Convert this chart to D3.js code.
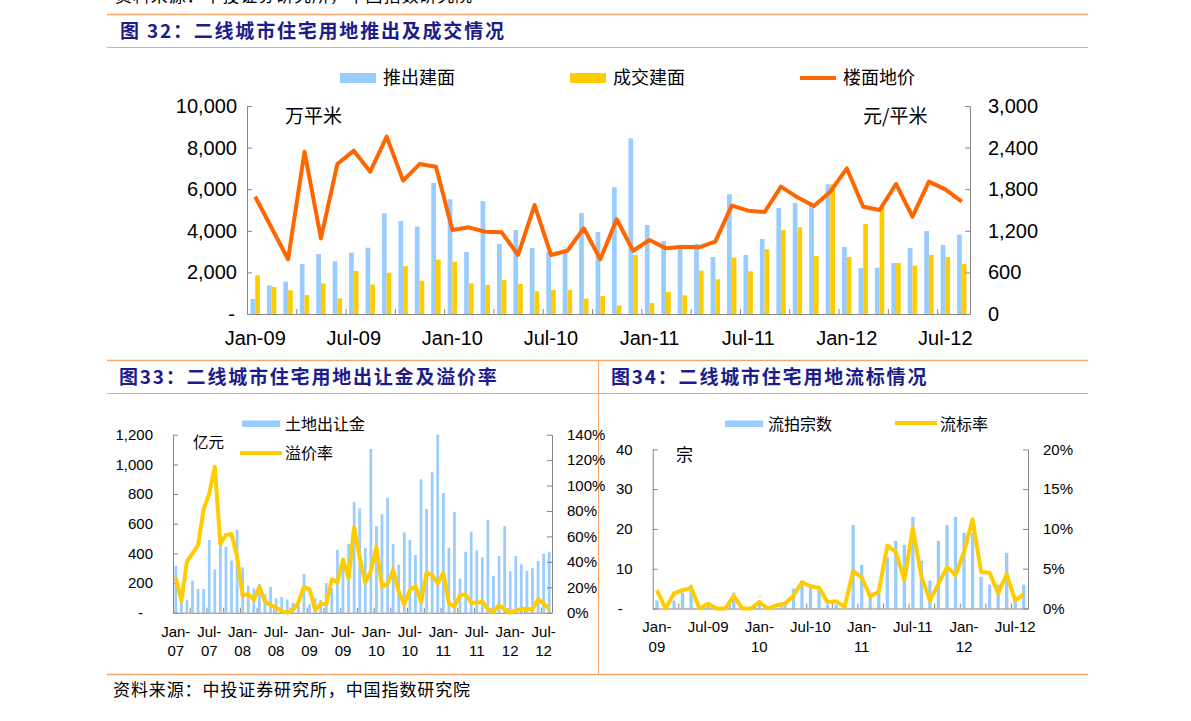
<!DOCTYPE html>
<html>
<head>
<meta charset="utf-8">
<script src="https://cdn.jsdelivr.net/npm/d3@7/dist/d3.min.js"></script>
<style>
  body { margin: 0; background: #fff; }
  svg text { font-family: "Liberation Sans", Arial, sans-serif; fill: #000; }
  svg text.cn { font-family: "Noto Sans CJK SC", sans-serif; }
  svg text.title { font-family: "Noto Sans CJK SC", sans-serif; font-weight: 700; fill: #1c1c8a; letter-spacing: 1.8px; }
</style>
</head>
<body>
<svg id="page" width="1191" height="721"></svg>
<script>
// ---- fig 32: 推出 / 成交 / 楼面地价, Jan-09 .. Aug-12
const supplyArea = [721, 1378, 1554, 2404, 2885, 2532, 2949, 3189, 4840, 4471, 4199, 6298,
  5513, 2981, 5433, 3365, 4038, 3173, 2981, 2981, 4856, 3942, 6090, 8446,
  4279, 3510, 3237, 3365, 2740, 5753, 2837, 3606, 5096, 5337, 5240, 6234,
  3221, 2212, 2228, 2452, 3173, 3990, 3317, 3814];
const dealArea = [1859, 1298, 1138, 913, 1474, 753, 2067, 1410, 1987, 2308, 1603, 2612,
  2516, 1474, 1394, 1635, 1442, 1090, 1154, 1154, 737, 865, 417, 2837,
  529, 1058, 897, 2083, 1667, 2708, 2051, 3109, 4038, 4167, 2788, 6234,
  2740, 4327, 5160, 2452, 2324, 2837, 2740, 2404];
const floorPrice = [1692, 1240, 789, 2341, 1091, 2163, 2356, 2053, 2558, 1923, 2163, 2125,
  1212, 1250, 1187, 1178, 851, 1572, 851, 913, 1236, 789, 1366, 913,
  1067, 947, 971, 962, 1043, 1562, 1490, 1471, 1837, 1683, 1558, 1764,
  2101, 1548, 1500, 1875, 1404, 1909, 1798, 1620];
const topLabels = ["Jan-09", "Jul-09", "Jan-10", "Jul-10", "Jan-11", "Jul-11", "Jan-12", "Jul-12"];

// ---- fig 33: 土地出让金 (亿元) / 溢价率 (%), Jan-07 .. Aug-12
const landFee = [315, 110, 85, 216, 160, 160, 490, 292, 524, 445, 351, 557,
  306, 182, 164, 193, 124, 175, 97, 106, 90, 67, 56, 261,
  56, 97, 85, 200, 164, 425, 337, 463, 746, 703, 438, 1103,
  584, 663, 775, 463, 324, 542, 490, 389, 899, 699, 946, 1200,
  807, 438, 679, 229, 411, 546, 420, 373, 625, 249, 382, 584,
  279, 382, 326, 283, 301, 348, 398, 409];
const premiumRate = [27.8, 9.2, 40.1, 46.7, 53.2, 81.3, 93.9, 114.8, 54.0, 61.1, 61.9, 44.0,
  13.4, 14.7, 10.0, 20.4, 8.7, 6.0, 4.2, 1.3, 0, 2.1, 8.1, 20.4,
  18.4, 2.1, 6.8, 6.8, 26.2, 23.9, 41.9, 27.0, 67.1, 43.5, 23.6, 33.0,
  51.9, 20.4, 22.5, 33.6, 16.5, 6.6, 17.8, 21.0, 8.7, 31.5, 29.6, 23.1,
  31.5, 7.3, 4.7, 13.9, 14.4, 7.9, 7.9, 8.7, 2.6, 0.8, 6.0, 2.6,
  0, 1.6, 2.9, 3.1, 2.6, 10.7, 7.3, 2.6];
const feeLabels = ["Jan-\n07", "Jul-\n07", "Jan-\n08", "Jul-\n08", "Jan-\n09", "Jul-\n09",
  "Jan-\n10", "Jul-\n10", "Jan-\n11", "Jul-\n11", "Jan-\n12", "Jul-\n12"];

// ---- fig 34: 流拍宗数 / 流标率 (%), Jan-09 .. Aug-12
const failCount = [2, 0, 2, 4, 6, 0, 1, 0, 0, 4, 0, 0,
  2, 0, 0, 1, 5, 7, 6, 5, 1, 1, 1, 21,
  11, 3, 4, 13, 17, 16, 23, 12, 7, 17, 21, 23,
  19, 19, 8, 6, 6, 14, 2, 6];
const failRate = [2.3, 0, 1.9, 2.3, 2.6, 0, 0.6, 0, 0, 1.6, 0, 0,
  0.8, 0, 0.4, 0.6, 1.6, 3.3, 2.8, 2.6, 0.8, 0.9, 0.2, 4.7,
  3.9, 1.5, 2.1, 7.9, 7.1, 3.6, 10.1, 4.0, 1.0, 3.1, 5.2, 4.2,
  7.1, 11.2, 4.6, 4.5, 1.9, 4.3, 1.0, 1.8];
const failLabels = ["Jan-\n09", "Jul-09", "Jan-\n10", "Jul-10", "Jan-\n11", "Jul-11", "Jan-\n12", "Jul-12"];

const months09 = d3.timeMonths(new Date(2009, 0, 1), new Date(2012, 8, 1));
const months07 = d3.timeMonths(new Date(2007, 0, 1), new Date(2012, 8, 1));

const BLUE = "#99ccff", GOLD = "#ffcc00", ORANGE = "#ff6600", AXIS = "#868686", RULE = "#f5a86a";

const svg = d3.select("#page");

function combo(o) {
  const g = svg.append("g");
  const n = o.cats.length;
  const x = d3.scaleBand().domain(d3.range(n)).range([o.left, o.right]);
  const xb = d3.scaleLinear().domain([0, n]).range([o.left, o.right]);
  const yL = d3.scaleLinear().domain([0, o.leftMax]).range([o.bottom, o.top]);
  const yR = d3.scaleLinear().domain([0, o.rightMax]).range([o.bottom, o.top]);
  const cx = i => x(i) + x.bandwidth() / 2;

  o.bars.forEach(b => {
    g.append("g").selectAll("rect").data(b.values).join("rect")
      .attr("x", (d, i) => cx(i) + b.dx)
      .attr("y", d => yL(d))
      .attr("width", b.w)
      .attr("height", d => yL(0) - yL(d))
      .attr("fill", b.color);
  });

  // axes
  const styleAxis = (sel, size) => {
    sel.select(".domain").attr("stroke", AXIS);
    sel.selectAll(".tick line").attr("stroke", AXIS);
    sel.selectAll(".tick text").attr("font-size", size).attr("fill", "#000")
      .attr("font-family", "Liberation Sans, Arial, sans-serif");
  };
  const gl = g.append("g").attr("transform", `translate(${o.left},0)`)
    .call(d3.axisLeft(yL).tickValues(o.leftTicks).tickSizeInner(-5).tickSizeOuter(0)
      .tickPadding(o.padL).tickFormat(d => d === 0 ? "-" : o.fmtL(d)));
  styleAxis(gl, o.fs);
  gl.selectAll(".tick text").filter(d => d === 0).attr("dx", o.dashDx);

  const gr = g.append("g").attr("transform", `translate(${o.right},0)`)
    .call(d3.axisRight(yR).tickValues(o.rightTicks).tickSizeInner(-5).tickSizeOuter(0)
      .tickPadding(o.padR).tickFormat(o.fmtR));
  styleAxis(gr, o.fs);

  const gb = g.append("g").attr("transform", `translate(0,${o.bottom})`)
    .call(d3.axisBottom(xb).tickValues(d3.range(3, n, 3)).tickSizeInner(-5).tickSizeOuter(0).tickFormat(""));
  styleAxis(gb, o.fs);

  // line on top
  g.append("path").datum(o.line.values)
    .attr("d", d3.line().x((d, i) => cx(i)).y(d => yR(d)))
    .attr("fill", "none")
    .attr("stroke", o.line.color)
    .attr("stroke-width", o.line.w)
    .attr("stroke-linejoin", "round");

  // category labels, every 6 months
  const lab = g.append("g").selectAll("text").data(o.xLabels).join("text")
    .attr("x", (d, k) => cx(k * 6))
    .attr("y", o.bottom + o.labY)
    .attr("text-anchor", "middle")
    .attr("font-size", o.xfs);
  lab.each(function (d) {
    const t = d3.select(this);
    d.split("\n").forEach((s, j) => {
      t.append("tspan").attr("x", t.attr("x")).attr("dy", j === 0 ? "0.35em" : o.lineGap).text(s);
    });
  });
}

// ---- headers and rules
svg.append("text").attr("class", "cn").attr("x", 115).attr("y", 2)
  .attr("font-size", 17).attr("fill", "#333").attr("letter-spacing", 0.9)
  .text("资料来源：中投证券研究所，中国指数研究院");
svg.append("line").attr("x1", 107).attr("x2", 1088).attr("y1", 14.5).attr("y2", 14.5)
  .attr("stroke", RULE).attr("stroke-width", 1.5);
svg.append("text").attr("class", "title").attr("x", 120).attr("y", 31).attr("dy", "0.35em")
  .attr("font-size", 19).text("图 32：二线城市住宅用地推出及成交情况");
svg.append("line").attr("x1", 107).attr("x2", 1088).attr("y1", 47.5).attr("y2", 47.5)
  .attr("stroke", RULE).attr("stroke-width", 1);

svg.append("line").attr("x1", 107).attr("x2", 1088).attr("y1", 360.5).attr("y2", 360.5)
  .attr("stroke", RULE).attr("stroke-width", 1.5);
svg.append("line").attr("x1", 107).attr("x2", 1088).attr("y1", 393.5).attr("y2", 393.5)
  .attr("stroke", RULE).attr("stroke-width", 1);
svg.append("line").attr("x1", 598.5).attr("x2", 598.5).attr("y1", 360).attr("y2", 674)
  .attr("stroke", RULE).attr("stroke-width", 1);
svg.append("text").attr("class", "title").attr("x", 119).attr("y", 377).attr("dy", "0.35em")
  .attr("font-size", 19).text("图33：二线城市住宅用地出让金及溢价率");
svg.append("text").attr("class", "title").attr("x", 611).attr("y", 377).attr("dy", "0.35em")
  .attr("font-size", 19).text("图34：二线城市住宅用地流标情况");

svg.append("line").attr("x1", 107).attr("x2", 1088).attr("y1", 674.5).attr("y2", 674.5)
  .attr("stroke", RULE).attr("stroke-width", 1.5);
svg.append("text").attr("class", "cn").attr("x", 113).attr("y", 690).attr("dy", "0.35em")
  .attr("font-size", 17).attr("fill", "#333").attr("letter-spacing", 0.9)
  .text("资料来源：中投证券研究所，中国指数研究院");

// ---- fig 32
combo({
  cats: months09, left: 247, right: 970, top: 106, bottom: 314,
  leftMax: 10000, leftTicks: d3.range(0, 10001, 2000), fmtL: d3.format(","), padL: 10, dashDx: -2,
  rightMax: 3000, rightTicks: d3.range(0, 3001, 600), fmtR: d3.format(","), padR: 18,
  fs: 20, xfs: 20, labY: 24, lineGap: "1.2em",
  bars: [
    { values: supplyArea, color: BLUE, dx: -4.7, w: 4.7 },
    { values: dealArea, color: GOLD, dx: 0, w: 4.7 }
  ],
  line: { values: floorPrice, color: ORANGE, w: 4 },
  xLabels: topLabels
});
// legend + units
svg.append("rect").attr("x", 340).attr("y", 73).attr("width", 36).attr("height", 10).attr("fill", BLUE);
svg.append("text").attr("class", "cn").attr("x", 383).attr("y", 78).attr("dy", "0.35em").attr("font-size", 18).text("推出建面");
svg.append("rect").attr("x", 570).attr("y", 73).attr("width", 36).attr("height", 10).attr("fill", GOLD);
svg.append("text").attr("class", "cn").attr("x", 613).attr("y", 78).attr("dy", "0.35em").attr("font-size", 18).text("成交建面");
svg.append("line").attr("x1", 800).attr("x2", 836).attr("y1", 78).attr("y2", 78).attr("stroke", ORANGE).attr("stroke-width", 4);
svg.append("text").attr("class", "cn").attr("x", 843).attr("y", 78).attr("dy", "0.35em").attr("font-size", 18).text("楼面地价");
svg.append("text").attr("class", "cn").attr("x", 285).attr("y", 116).attr("dy", "0.35em").attr("font-size", 19).text("万平米");
svg.append("text").attr("class", "cn").attr("x", 863).attr("y", 116).attr("dy", "0.35em").attr("font-size", 19).text("元/平米");

// ---- fig 33
combo({
  cats: months07, left: 173, right: 552, top: 434.7, bottom: 612.7,
  leftMax: 1200, leftTicks: d3.range(0, 1201, 200), fmtL: d3.format(","), padL: 20, dashDx: -10,
  rightMax: 140, rightTicks: d3.range(0, 141, 20), fmtR: d => d + "%", padR: 15,
  fs: 15, xfs: 15, labY: 19.5, lineGap: "1.25em",
  bars: [{ values: landFee, color: BLUE, dx: -1.35, w: 2.7 }],
  line: { values: premiumRate, color: GOLD, w: 4 },
  xLabels: feeLabels
});
svg.append("rect").attr("x", 242).attr("y", 420.5).attr("width", 38).attr("height", 6.5).attr("fill", BLUE);
svg.append("text").attr("class", "cn").attr("x", 285).attr("y", 424).attr("dy", "0.35em").attr("font-size", 16).text("土地出让金");
svg.append("line").attr("x1", 240).attr("x2", 282).attr("y1", 453).attr("y2", 453).attr("stroke", GOLD).attr("stroke-width", 4);
svg.append("text").attr("class", "cn").attr("x", 285).attr("y", 453).attr("dy", "0.35em").attr("font-size", 16).text("溢价率");
svg.append("text").attr("class", "cn").attr("x", 193).attr("y", 443).attr("dy", "0.35em").attr("font-size", 15.5).text("亿元");

// ---- fig 34
combo({
  cats: months09, left: 652.7, right: 1028, top: 449.3, bottom: 608.5,
  leftMax: 40, leftTicks: d3.range(0, 41, 10), fmtL: d3.format(","), padL: 20, dashDx: -10,
  rightMax: 20, rightTicks: d3.range(0, 21, 5), fmtR: d => d + "%", padR: 15,
  fs: 15, xfs: 15, labY: 18.5, lineGap: "1.3em",
  bars: [{ values: failCount, color: BLUE, dx: -1.65, w: 3.3 }],
  line: { values: failRate, color: GOLD, w: 4 },
  xLabels: failLabels
});
svg.append("rect").attr("x", 725).attr("y", 420.5).attr("width", 38).attr("height", 6.5).attr("fill", BLUE);
svg.append("text").attr("class", "cn").attr("x", 768).attr("y", 424).attr("dy", "0.35em").attr("font-size", 16).text("流拍宗数");
svg.append("line").attr("x1", 895).attr("x2", 937).attr("y1", 423).attr("y2", 423).attr("stroke", GOLD).attr("stroke-width", 4);
svg.append("text").attr("class", "cn").attr("x", 940).attr("y", 424).attr("dy", "0.35em").attr("font-size", 16).text("流标率");
svg.append("text").attr("class", "cn").attr("x", 676).attr("y", 455).attr("dy", "0.35em").attr("font-size", 17).text("宗");
</script>
</body>
</html>
